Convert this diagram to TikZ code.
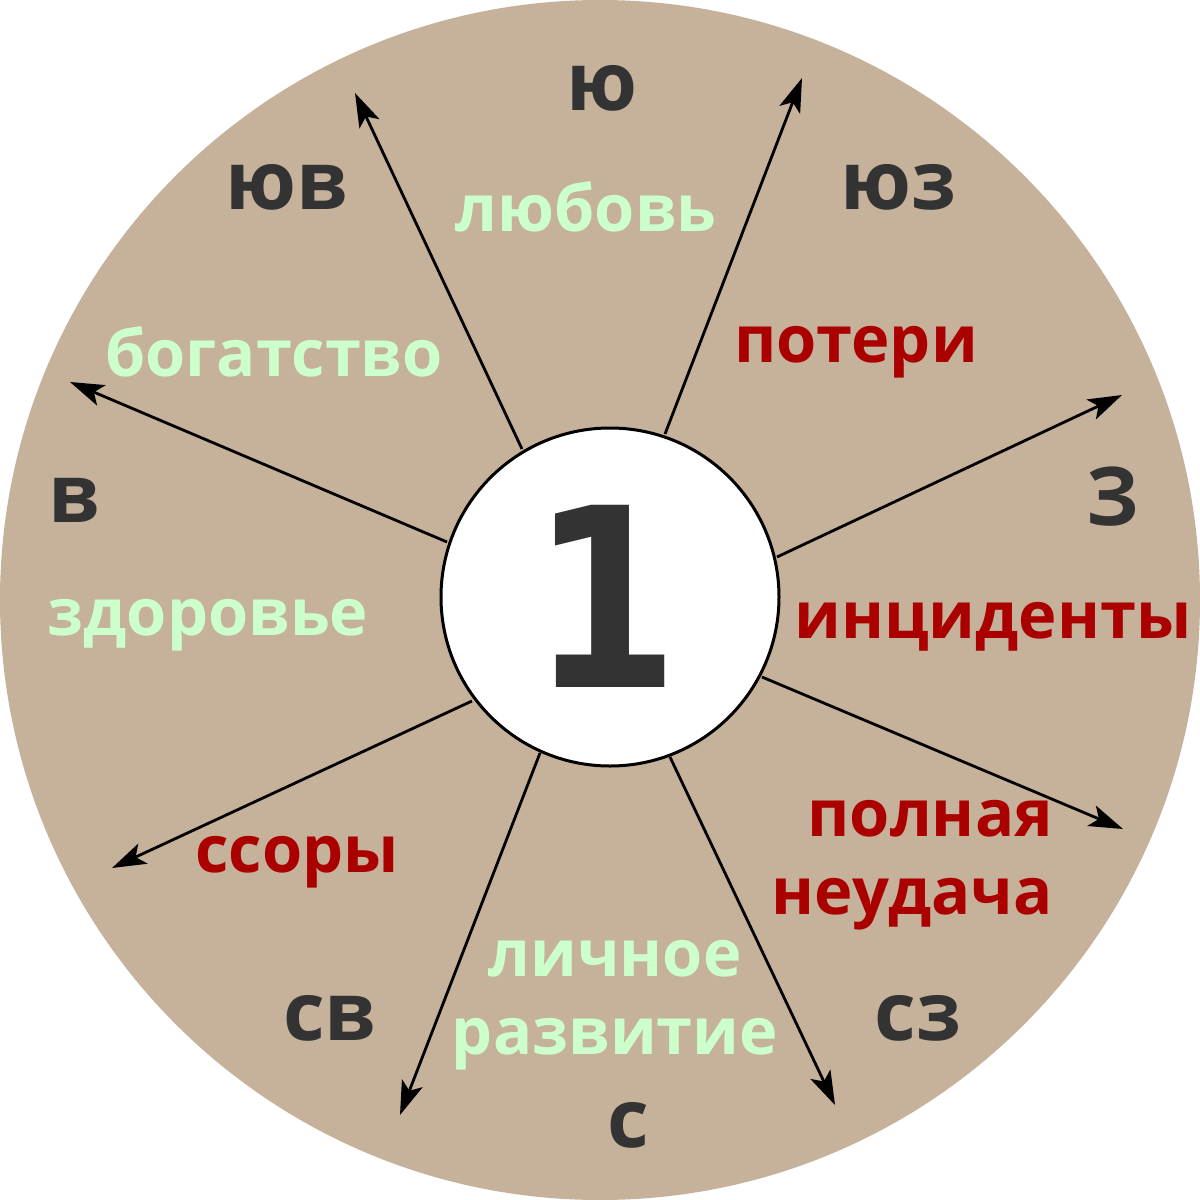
\documentclass[tikz,border=0pt]{standalone}
\usepackage{fontspec}
\setmainfont{Open Sans}
\newfontfamily\onefont{DejaVu Sans}
\usetikzlibrary{arrows.meta}
\definecolor{tan}{HTML}{C6B19A}
\definecolor{dark}{HTML}{333333}
\definecolor{lgreen}{HTML}{CCFFCC}
\definecolor{dred}{HTML}{AA0000}
\begin{document}
\begin{tikzpicture}[x=1pt,y=-1pt,
  dir/.style={text=dark,font=\fontsize{81}{90}\selectfont\bfseries,inner sep=0pt},
  good/.style={text=lgreen,font=\fontsize{65}{80}\selectfont\bfseries,inner sep=0pt},
  bad/.style={text=dred,font=\fontsize{65}{80}\selectfont\bfseries,inner sep=0pt},
  ray/.style={line width=2.8pt,-{Stealth[length=34pt,width=22pt,inset=8pt]}}]
\useasboundingbox (0,0) rectangle (1200,1200);
\fill[white] (0,0) rectangle (1200,1200);
\node[circle,fill=tan,minimum size=1200pt,inner sep=0pt] (outer) at (600,600) {};
% ray start / end points
\coordinate (s1) at (522,449); \coordinate (e1) at (355,93);
\coordinate (s2) at (665,434); \coordinate (e2) at (802,78);
\coordinate (s3) at (777,557); \coordinate (e3) at (1122,395);
\coordinate (s4) at (762,677); \coordinate (e4) at (1123,829);
\coordinate (s5) at (670,757); \coordinate (e5) at (835,1105);
\coordinate (s6) at (540,753); \coordinate (e6) at (400,1115);
\coordinate (s7) at (472,701); \coordinate (e7) at (112,868);
\coordinate (s8) at (447,542); \coordinate (e8) at (70,382);
\foreach \i in {1,...,8} \draw[ray] (s\i) -- (e\i);
\node[circle,draw=black,line width=3pt,fill=white,minimum size=338pt,inner sep=0pt] (center) at (610,597) {};
\node[text=dark,font=\onefont\fontsize{250}{250}\selectfont\bfseries,inner sep=0pt,anchor=base,xscale=0.85] (one) at (605,687) {1};
% directions
\node[dir] (dS) at (602,88) {ю};
\node[dir] (dSE) at (287,187) {юв};
\node[dir] (dSW) at (898,187) {юз};
\node[dir] (dE) at (74,500) {в};
\node[dir] (dW) at (1113,497) {З};
\node[dir] (dNE) at (330,1018) {св};
\node[dir] (dNW) at (918,1018) {сз};
\node[dir] (dN) at (628,1125) {с};
% labels
\node[good] (love) at (586,207) {любовь};
\node[good] (wealth) at (274,352) {богатство};
\node[bad] (loss) at (856,352) {потери};
\node[good] (health) at (208,625) {здоровье};
\node[bad] (incid) at (993,627) {инциденты};
\node[bad,anchor=east] (fail1) at (1053,819) {полная};
\node[bad,anchor=east] (fail2) at (1053,904) {неудача};
\node[bad] (quarrel) at (297,862) {ссоры};
\node[good] (pers1) at (615,959) {личное};
\node[good] (pers2) at (615,1044) {развитие};
\end{tikzpicture}
\end{document}
